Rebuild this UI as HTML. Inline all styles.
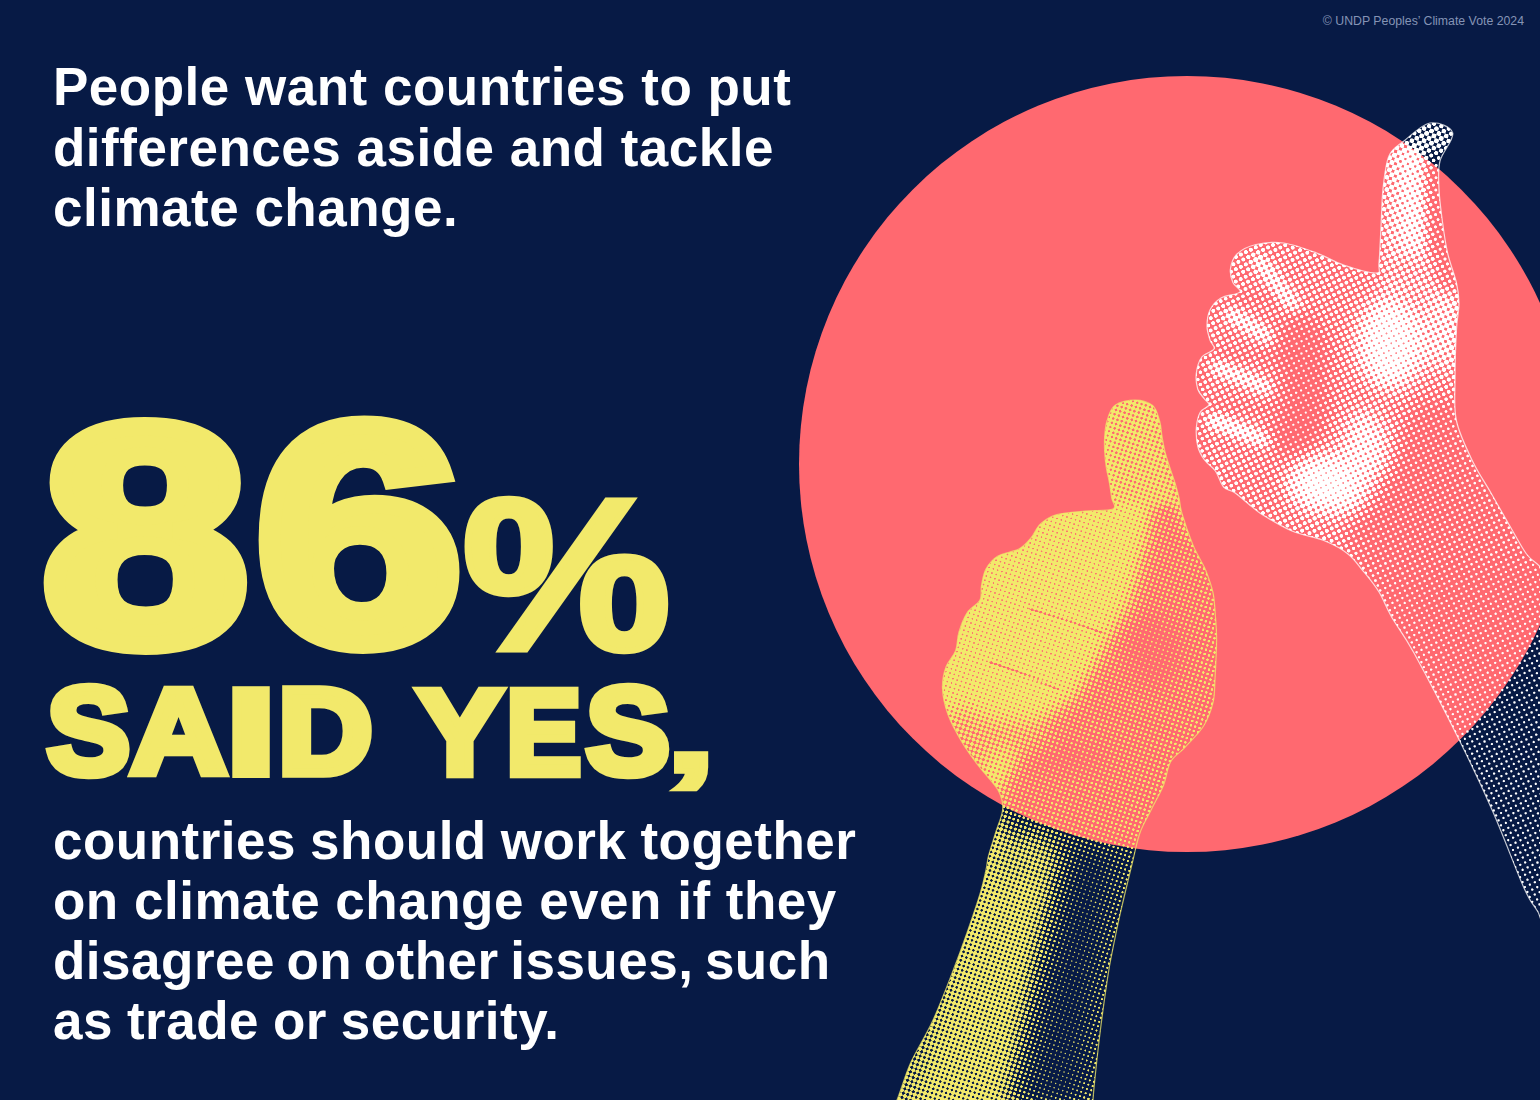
<!DOCTYPE html>
<html lang="en">
<head>
<meta charset="utf-8">
<title>86% said yes</title>
<style>
html,body{margin:0;padding:0;}
body{width:1540px;height:1100px;overflow:hidden;background:#071a45;position:relative;font-family:"Liberation Sans",Arial,sans-serif;}
.copy{position:absolute;right:16px;top:13px;font-size:12.3px;line-height:16px;color:#8594b5;white-space:nowrap;}
.head,.body{position:absolute;left:53px;color:#fff;font-weight:700;font-size:53px;line-height:60.5px;letter-spacing:0.5px;white-space:nowrap;}
.head{top:57px;}
.body{top:811px;line-height:60px;}
.big{position:absolute;left:0;top:0;}
.bigc{position:absolute;left:0;top:0;font-size:0;line-height:0;white-space:nowrap;}
.g{display:inline-block;width:0;vertical-align:top;transform-origin:0 0;font-weight:700;font-size:200px;line-height:200px;color:#f2e96b;-webkit-text-stroke:12px #f2e96b;}
svg.art{position:absolute;left:0;top:0;}
</style>
</head>
<body>
<svg class="art" width="1540" height="1100" viewBox="0 0 1540 1100">
<defs>
<radialGradient id="rg" cx=".5" cy=".5" r=".7071"><stop offset="0.000" stop-color="#ffffff"/><stop offset="0.141" stop-color="#f7f7f7"/><stop offset="0.283" stop-color="#dfdfdf"/><stop offset="0.424" stop-color="#b7b7b7"/><stop offset="0.566" stop-color="#7f7f7f"/><stop offset="0.707" stop-color="#373737"/><stop offset="0.778" stop-color="#1c1c1c"/><stop offset="0.849" stop-color="#0d0d0d"/><stop offset="0.919" stop-color="#030303"/><stop offset="1.000" stop-color="#000000"/></radialGradient>
<pattern id="sY" patternUnits="userSpaceOnUse" width="4.5" height="4.5" patternTransform="rotate(18)"><rect width="4.5" height="4.5" fill="url(#rg)"/></pattern>
<pattern id="sW" patternUnits="userSpaceOnUse" width="5.5" height="5.5" patternTransform="rotate(-26)"><rect width="5.5" height="5.5" fill="url(#rg)"/></pattern>
<filter id="thr" filterUnits="userSpaceOnUse" x="0" y="0" width="1540" height="1100" color-interpolation-filters="sRGB"><feComponentTransfer><feFuncR type="linear" slope="9" intercept="-4"/><feFuncG type="linear" slope="9" intercept="-4"/><feFuncB type="linear" slope="9" intercept="-4"/></feComponentTransfer></filter>
<filter id="b4" x="-50%" y="-50%" width="200%" height="200%"><feGaussianBlur stdDeviation="4"/></filter>
<filter id="b10" x="-50%" y="-50%" width="200%" height="200%"><feGaussianBlur stdDeviation="10"/></filter>
<clipPath id="cY"><path d="M1135.0 400.0C1141.3 400.0 1148.5 402.0 1152.6 405.5C1156.7 409.0 1158.0 415.9 1159.6 421.0C1161.2 426.1 1161.1 431.2 1162.0 436.4C1162.9 441.6 1163.7 446.9 1165.0 452.0C1166.3 457.1 1167.9 461.8 1169.6 467.0C1171.3 472.2 1173.4 477.8 1175.0 483.0C1176.6 488.2 1177.8 492.9 1179.0 498.0C1180.2 503.1 1179.7 505.8 1182.0 513.6C1184.3 521.4 1189.7 536.9 1192.8 544.6C1195.9 552.3 1198.3 555.6 1200.5 560.0C1202.7 564.4 1203.9 565.5 1206.0 571.0C1208.1 576.5 1211.4 585.2 1213.0 592.7C1214.6 600.2 1214.8 608.1 1215.4 616.0C1216.0 623.9 1216.7 629.5 1216.6 640.0C1216.5 650.5 1215.6 668.5 1215.0 679.0C1214.4 689.5 1214.9 694.9 1213.0 702.7C1211.1 710.5 1208.3 718.5 1203.6 726.0C1198.9 733.5 1190.2 741.6 1184.7 747.6C1179.2 753.6 1174.0 755.7 1170.5 762.0C1167.0 768.3 1166.6 777.6 1163.4 785.4C1160.2 793.2 1155.5 801.1 1151.6 809.0C1147.7 816.9 1143.1 824.2 1140.0 832.7C1136.9 841.2 1136.3 846.4 1133.0 860.0C1129.7 873.6 1123.7 898.3 1120.0 914.6C1116.3 930.9 1113.2 946.8 1111.0 958.0C1108.8 969.2 1108.8 970.0 1107.0 982.0C1105.2 994.0 1102.4 1014.0 1100.4 1030.0C1098.4 1046.0 1096.2 1066.3 1095.0 1078.0C1093.8 1089.7 1093.5 1092.2 1093.0 1100.0C1092.5 1107.8 1126.7 1120.8 1092.0 1125.0C1057.3 1129.2 917.5 1129.2 885.0 1125.0C852.5 1120.8 892.7 1110.3 897.0 1100.0C901.3 1089.7 904.7 1076.1 910.6 1063.0C916.5 1049.9 925.5 1036.4 932.4 1021.5C939.3 1006.6 946.2 988.4 952.0 973.5C957.8 958.6 962.6 945.5 967.3 932.0C972.0 918.5 977.3 903.0 980.4 892.7C983.5 882.4 984.6 876.1 986.0 870.0C987.4 863.9 986.9 862.2 988.5 856.0C990.1 849.8 993.2 840.5 995.6 832.7C998.0 824.9 1002.3 816.1 1002.7 809.0C1003.1 801.9 1002.0 797.1 998.0 790.0C994.0 782.9 984.9 774.3 979.0 766.5C973.1 758.7 967.7 751.7 962.5 743.0C957.3 734.3 951.3 723.6 948.0 714.5C944.7 705.4 942.8 696.4 942.5 688.5C942.2 680.6 943.8 673.2 946.0 667.0C948.2 660.8 953.3 656.8 955.5 651.0C957.7 645.2 957.1 638.3 959.0 632.0C960.9 625.7 963.5 618.3 967.0 613.0C970.5 607.7 977.6 604.6 980.0 600.0C982.4 595.4 980.5 590.8 981.5 585.6C982.5 580.4 983.2 573.9 986.0 569.0C988.8 564.1 992.5 559.3 998.0 556.0C1003.5 552.7 1013.5 552.0 1019.0 549.0C1024.5 546.0 1027.4 542.2 1031.0 538.0C1034.6 533.8 1036.2 527.9 1040.5 524.0C1044.8 520.1 1049.5 516.9 1057.0 514.7C1064.5 512.5 1076.1 511.9 1085.4 511.0C1094.7 510.1 1108.6 511.2 1113.0 509.0C1117.4 506.8 1112.3 502.4 1111.7 498.0C1111.1 493.6 1110.3 487.8 1109.4 482.7C1108.5 477.6 1107.1 472.4 1106.3 467.3C1105.5 462.2 1105.0 457.1 1104.7 452.0C1104.4 446.9 1104.3 441.6 1104.7 436.4C1105.1 431.2 1105.3 426.1 1107.0 421.0C1108.7 415.9 1110.1 409.0 1114.8 405.5C1119.5 402.0 1128.7 400.0 1135.0 400.0Z"/></clipPath>
<clipPath id="cW"><path d="M1430.0 123.0C1438.1 121.7 1451.0 126.7 1452.7 133.0C1454.4 139.3 1442.3 151.7 1440.0 161.0C1437.7 170.3 1438.6 178.8 1439.0 189.0C1439.4 199.2 1441.1 211.3 1442.5 222.0C1443.9 232.7 1445.3 242.8 1447.6 253.0C1449.9 263.2 1454.6 274.6 1456.5 283.0C1458.4 291.4 1459.0 295.9 1459.0 303.6C1459.0 311.3 1457.2 316.3 1456.5 329.0C1455.8 341.7 1455.0 364.7 1455.0 380.0C1455.0 395.3 1453.5 407.3 1456.5 421.0C1459.5 434.7 1467.2 450.0 1473.0 462.0C1478.8 474.0 1484.7 482.0 1491.0 493.0C1497.3 504.0 1505.1 517.8 1511.0 528.0C1516.9 538.2 1521.7 547.6 1526.5 554.0C1531.3 560.4 1534.1 560.8 1540.0 566.5C1545.9 572.2 1558.3 523.8 1562.0 588.0C1565.7 652.2 1566.0 898.0 1562.0 952.0C1558.0 1006.0 1544.3 922.7 1538.0 912.0C1531.7 901.3 1531.5 904.7 1524.0 888.0C1516.5 871.3 1503.8 836.8 1493.0 812.0C1482.2 787.2 1472.2 766.0 1459.0 739.5C1445.8 713.0 1425.2 673.4 1414.0 653.0C1402.8 632.6 1397.4 627.2 1391.6 617.0C1385.8 606.8 1383.7 599.6 1379.0 592.0C1374.3 584.4 1368.8 577.9 1363.6 571.6C1358.4 565.3 1354.4 559.1 1348.0 554.0C1341.6 548.9 1334.3 544.8 1325.0 541.0C1315.7 537.2 1302.5 535.4 1292.0 531.0C1281.5 526.6 1268.8 518.6 1262.0 514.4C1255.2 510.2 1255.6 509.6 1251.0 506.0C1246.4 502.4 1239.1 495.8 1234.5 492.6C1229.9 489.4 1226.8 490.6 1223.6 487.0C1220.4 483.4 1218.6 475.5 1215.4 471.0C1212.2 466.5 1207.5 464.2 1204.5 460.0C1201.5 455.8 1199.0 451.5 1197.7 446.0C1196.4 440.5 1196.0 432.7 1196.4 427.0C1196.9 421.3 1198.3 415.7 1200.4 412.0C1202.5 408.3 1208.3 407.2 1209.0 405.0C1209.7 402.8 1206.4 401.7 1204.5 399.0C1202.6 396.3 1199.0 393.4 1197.7 389.0C1196.4 384.6 1195.7 378.0 1196.4 372.7C1197.1 367.4 1198.9 360.9 1201.8 357.0C1204.7 353.1 1212.6 351.8 1214.0 349.0C1215.4 346.2 1211.2 343.8 1210.0 340.0C1208.8 336.2 1207.0 331.0 1207.0 326.0C1207.0 321.0 1207.7 314.7 1210.0 310.0C1212.3 305.3 1216.0 301.0 1221.0 298.0C1226.0 295.0 1238.0 294.6 1240.0 292.0C1242.0 289.4 1234.6 286.5 1233.0 282.7C1231.4 278.9 1229.7 273.8 1230.4 269.0C1231.1 264.2 1232.7 258.1 1237.0 254.0C1241.3 249.9 1248.2 246.3 1256.0 244.5C1263.8 242.7 1273.6 241.6 1283.6 243.0C1293.6 244.4 1306.0 249.0 1316.0 252.7C1326.0 256.4 1333.6 261.6 1343.6 265.0C1353.6 268.4 1370.1 273.3 1376.0 273.0C1381.9 272.7 1378.2 270.7 1379.0 263.0C1379.8 255.3 1380.3 239.3 1381.0 227.0C1381.7 214.7 1381.7 200.8 1383.0 189.0C1384.3 177.2 1385.5 164.0 1389.0 156.0C1392.5 148.0 1397.2 146.5 1404.0 141.0C1410.8 135.5 1421.9 124.3 1430.0 123.0Z"/></clipPath>
<mask id="mY" maskUnits="userSpaceOnUse" x="0" y="0" width="1540" height="1100"><g filter="url(#thr)"><rect width="1540" height="1100" fill="#000"/>
<g clip-path="url(#cY)">
<rect x="880" y="390" width="350" height="710" fill="#d0d0d0"/>
<g filter="url(#b10)">
<path d="M880 850 L1240 850 L1240 1110 L880 1110Z" fill="#adadad"/>
<path d="M1150 500 L1175 490 L1240 510 L1240 850 L1000 850 L1000 790 L1040 720 L1074 700 L1085 681 L1098 662 L1112 633 L1131 604 L1140 566 L1150 528Z" fill="#4d4d4d"/>
<ellipse cx="1155" cy="650" rx="32" ry="40" fill="#2a2a2a"/>
<ellipse cx="1065" cy="758" rx="45" ry="12" fill="#262626"/>
<ellipse cx="965" cy="745" rx="30" ry="40" fill="#888"/>
<ellipse cx="1010" cy="735" rx="40" ry="18" fill="#888"/>
<path d="M1058 845 L1170 845 L1150 1110 L1005 1110 L1030 980Z" fill="#3c3c3c"/>
<path d="M1078 850 L1112 850 L1080 1110 L1030 1110 L1050 980Z" fill="#1a1a1a"/>
<path d="M990 835 L1048 835 L1045 880 L990 880Z" fill="#9a9a9a"/>
<path d="M900 1000 L945 930 L960 950 L915 1110 L880 1110Z" fill="#909090"/>
</g>
<g filter="url(#b4)">
<path d="M1108 400 L1160 400 L1168 470 L1176 505 L1110 505Z" fill="#a6a6a6"/>
<path d="M1163 430 C1168 470 1178 500 1195 540" stroke="#999" stroke-width="14" fill="none"/>
</g>
<g stroke="#8a8a8a" stroke-width="2.5" fill="none" stroke-linecap="round">
<path d="M1030 609 Q1068 618 1102 633"/>
<path d="M990 662 Q1025 674 1058 689"/>
</g>
</g>

<rect width="1540" height="1100" fill="url(#sY)" opacity=".5"/></g></mask>
<mask id="mW" maskUnits="userSpaceOnUse" x="0" y="0" width="1540" height="1100"><g filter="url(#thr)"><rect width="1540" height="1100" fill="#000"/>
<g clip-path="url(#cW)">
<rect x="1150" y="100" width="400" height="860" fill="#747474"/>
<g filter="url(#b4)">
<path d="M1385 150 L1422 140 L1426 290 L1385 290Z" fill="#a8a8a8"/>
<path d="M1400 150 L1422 140 L1424 270 L1402 270Z" fill="#c8c8c8"/>
<path d="M1428 165 L1462 150 L1468 300 L1434 290Z" fill="#404040"/>
<ellipse cx="1432" cy="138" rx="18" ry="12" fill="#a0a0a0"/>
</g>
<g filter="url(#b4)" fill="none" stroke-linecap="round">
<path d="M1203 300 C1198 340 1196 400 1200 470" stroke="#555" stroke-width="12"/>
<path d="M1215 297 L1285 300" stroke="#555" stroke-width="8"/>
<path d="M1200 352 L1285 358" stroke="#555" stroke-width="8"/>
<path d="M1198 405 L1275 410" stroke="#555" stroke-width="8"/>
<path d="M1259 261 L1294 306" stroke="#c0c0c0" stroke-width="15"/>
<path d="M1232 315 L1270 338" stroke="#c0c0c0" stroke-width="15"/>
<path d="M1218 368 L1268 388" stroke="#c0c0c0" stroke-width="15"/>
<path d="M1214 421 L1268 441" stroke="#cccccc" stroke-width="15"/>
</g>
<g filter="url(#b10)">

<ellipse cx="1410" cy="272" rx="32" ry="20" fill="#8c8c8c"/>
<ellipse cx="1390" cy="343" rx="32" ry="46" fill="#e0e0e0"/>
<path d="M1425 290 L1462 290 L1462 365 L1425 365Z" fill="#b4b4b4"/>
<path d="M1425 365 L1462 365 L1462 425 L1425 425Z" fill="#7a7a7a"/>
<ellipse cx="1302" cy="350" rx="26" ry="34" fill="#262626"/>
<ellipse cx="1305" cy="390" rx="24" ry="70" fill="#2a2a2a"/>
<ellipse cx="1296" cy="434" rx="24" ry="30" fill="#262626"/>
<ellipse cx="1250" cy="490" rx="40" ry="25" fill="#666"/>
<ellipse cx="1330" cy="484" rx="40" ry="28" fill="#e8e8e8"/>
<ellipse cx="1365" cy="455" rx="22" ry="45" fill="#c8c8c8"/>
<path d="M1420 395 L1480 400 L1570 560 L1570 640 L1380 640 L1345 530 L1385 465Z" fill="#383838"/>
<path d="M1370 580 L1560 560 L1560 960 L1500 960Z" fill="#2e2e2e"/>
</g>
</g>

<rect width="1540" height="1100" fill="url(#sW)" opacity=".5"/></g></mask>
</defs>
<circle cx="1187" cy="464" r="388" fill="#ff6970"/>
<g clip-path="url(#cW)"><rect x="1150" y="100" width="390" height="850" fill="#fff" mask="url(#mW)"/></g>
<path d="M1430.0 123.0C1438.1 121.7 1451.0 126.7 1452.7 133.0C1454.4 139.3 1442.3 151.7 1440.0 161.0C1437.7 170.3 1438.6 178.8 1439.0 189.0C1439.4 199.2 1441.1 211.3 1442.5 222.0C1443.9 232.7 1445.3 242.8 1447.6 253.0C1449.9 263.2 1454.6 274.6 1456.5 283.0C1458.4 291.4 1459.0 295.9 1459.0 303.6C1459.0 311.3 1457.2 316.3 1456.5 329.0C1455.8 341.7 1455.0 364.7 1455.0 380.0C1455.0 395.3 1453.5 407.3 1456.5 421.0C1459.5 434.7 1467.2 450.0 1473.0 462.0C1478.8 474.0 1484.7 482.0 1491.0 493.0C1497.3 504.0 1505.1 517.8 1511.0 528.0C1516.9 538.2 1521.7 547.6 1526.5 554.0C1531.3 560.4 1534.1 560.8 1540.0 566.5C1545.9 572.2 1558.3 523.8 1562.0 588.0C1565.7 652.2 1566.0 898.0 1562.0 952.0C1558.0 1006.0 1544.3 922.7 1538.0 912.0C1531.7 901.3 1531.5 904.7 1524.0 888.0C1516.5 871.3 1503.8 836.8 1493.0 812.0C1482.2 787.2 1472.2 766.0 1459.0 739.5C1445.8 713.0 1425.2 673.4 1414.0 653.0C1402.8 632.6 1397.4 627.2 1391.6 617.0C1385.8 606.8 1383.7 599.6 1379.0 592.0C1374.3 584.4 1368.8 577.9 1363.6 571.6C1358.4 565.3 1354.4 559.1 1348.0 554.0C1341.6 548.9 1334.3 544.8 1325.0 541.0C1315.7 537.2 1302.5 535.4 1292.0 531.0C1281.5 526.6 1268.8 518.6 1262.0 514.4C1255.2 510.2 1255.6 509.6 1251.0 506.0C1246.4 502.4 1239.1 495.8 1234.5 492.6C1229.9 489.4 1226.8 490.6 1223.6 487.0C1220.4 483.4 1218.6 475.5 1215.4 471.0C1212.2 466.5 1207.5 464.2 1204.5 460.0C1201.5 455.8 1199.0 451.5 1197.7 446.0C1196.4 440.5 1196.0 432.7 1196.4 427.0C1196.9 421.3 1198.3 415.7 1200.4 412.0C1202.5 408.3 1208.3 407.2 1209.0 405.0C1209.7 402.8 1206.4 401.7 1204.5 399.0C1202.6 396.3 1199.0 393.4 1197.7 389.0C1196.4 384.6 1195.7 378.0 1196.4 372.7C1197.1 367.4 1198.9 360.9 1201.8 357.0C1204.7 353.1 1212.6 351.8 1214.0 349.0C1215.4 346.2 1211.2 343.8 1210.0 340.0C1208.8 336.2 1207.0 331.0 1207.0 326.0C1207.0 321.0 1207.7 314.7 1210.0 310.0C1212.3 305.3 1216.0 301.0 1221.0 298.0C1226.0 295.0 1238.0 294.6 1240.0 292.0C1242.0 289.4 1234.6 286.5 1233.0 282.7C1231.4 278.9 1229.7 273.8 1230.4 269.0C1231.1 264.2 1232.7 258.1 1237.0 254.0C1241.3 249.9 1248.2 246.3 1256.0 244.5C1263.8 242.7 1273.6 241.6 1283.6 243.0C1293.6 244.4 1306.0 249.0 1316.0 252.7C1326.0 256.4 1333.6 261.6 1343.6 265.0C1353.6 268.4 1370.1 273.3 1376.0 273.0C1381.9 272.7 1378.2 270.7 1379.0 263.0C1379.8 255.3 1380.3 239.3 1381.0 227.0C1381.7 214.7 1381.7 200.8 1383.0 189.0C1384.3 177.2 1385.5 164.0 1389.0 156.0C1392.5 148.0 1397.2 146.5 1404.0 141.0C1410.8 135.5 1421.9 124.3 1430.0 123.0Z" fill="none" stroke="#fff" stroke-width="1.2" stroke-opacity=".75"/>
<g clip-path="url(#cY)"><rect x="880" y="390" width="350" height="710" fill="#f2e96b" mask="url(#mY)"/></g>
<path d="M1135.0 400.0C1141.3 400.0 1148.5 402.0 1152.6 405.5C1156.7 409.0 1158.0 415.9 1159.6 421.0C1161.2 426.1 1161.1 431.2 1162.0 436.4C1162.9 441.6 1163.7 446.9 1165.0 452.0C1166.3 457.1 1167.9 461.8 1169.6 467.0C1171.3 472.2 1173.4 477.8 1175.0 483.0C1176.6 488.2 1177.8 492.9 1179.0 498.0C1180.2 503.1 1179.7 505.8 1182.0 513.6C1184.3 521.4 1189.7 536.9 1192.8 544.6C1195.9 552.3 1198.3 555.6 1200.5 560.0C1202.7 564.4 1203.9 565.5 1206.0 571.0C1208.1 576.5 1211.4 585.2 1213.0 592.7C1214.6 600.2 1214.8 608.1 1215.4 616.0C1216.0 623.9 1216.7 629.5 1216.6 640.0C1216.5 650.5 1215.6 668.5 1215.0 679.0C1214.4 689.5 1214.9 694.9 1213.0 702.7C1211.1 710.5 1208.3 718.5 1203.6 726.0C1198.9 733.5 1190.2 741.6 1184.7 747.6C1179.2 753.6 1174.0 755.7 1170.5 762.0C1167.0 768.3 1166.6 777.6 1163.4 785.4C1160.2 793.2 1155.5 801.1 1151.6 809.0C1147.7 816.9 1143.1 824.2 1140.0 832.7C1136.9 841.2 1136.3 846.4 1133.0 860.0C1129.7 873.6 1123.7 898.3 1120.0 914.6C1116.3 930.9 1113.2 946.8 1111.0 958.0C1108.8 969.2 1108.8 970.0 1107.0 982.0C1105.2 994.0 1102.4 1014.0 1100.4 1030.0C1098.4 1046.0 1096.2 1066.3 1095.0 1078.0C1093.8 1089.7 1093.5 1092.2 1093.0 1100.0C1092.5 1107.8 1126.7 1120.8 1092.0 1125.0C1057.3 1129.2 917.5 1129.2 885.0 1125.0C852.5 1120.8 892.7 1110.3 897.0 1100.0C901.3 1089.7 904.7 1076.1 910.6 1063.0C916.5 1049.9 925.5 1036.4 932.4 1021.5C939.3 1006.6 946.2 988.4 952.0 973.5C957.8 958.6 962.6 945.5 967.3 932.0C972.0 918.5 977.3 903.0 980.4 892.7C983.5 882.4 984.6 876.1 986.0 870.0C987.4 863.9 986.9 862.2 988.5 856.0C990.1 849.8 993.2 840.5 995.6 832.7C998.0 824.9 1002.3 816.1 1002.7 809.0C1003.1 801.9 1002.0 797.1 998.0 790.0C994.0 782.9 984.9 774.3 979.0 766.5C973.1 758.7 967.7 751.7 962.5 743.0C957.3 734.3 951.3 723.6 948.0 714.5C944.7 705.4 942.8 696.4 942.5 688.5C942.2 680.6 943.8 673.2 946.0 667.0C948.2 660.8 953.3 656.8 955.5 651.0C957.7 645.2 957.1 638.3 959.0 632.0C960.9 625.7 963.5 618.3 967.0 613.0C970.5 607.7 977.6 604.6 980.0 600.0C982.4 595.4 980.5 590.8 981.5 585.6C982.5 580.4 983.2 573.9 986.0 569.0C988.8 564.1 992.5 559.3 998.0 556.0C1003.5 552.7 1013.5 552.0 1019.0 549.0C1024.5 546.0 1027.4 542.2 1031.0 538.0C1034.6 533.8 1036.2 527.9 1040.5 524.0C1044.8 520.1 1049.5 516.9 1057.0 514.7C1064.5 512.5 1076.1 511.9 1085.4 511.0C1094.7 510.1 1108.6 511.2 1113.0 509.0C1117.4 506.8 1112.3 502.4 1111.7 498.0C1111.1 493.6 1110.3 487.8 1109.4 482.7C1108.5 477.6 1107.1 472.4 1106.3 467.3C1105.5 462.2 1105.0 457.1 1104.7 452.0C1104.4 446.9 1104.3 441.6 1104.7 436.4C1105.1 431.2 1105.3 426.1 1107.0 421.0C1108.7 415.9 1110.1 409.0 1114.8 405.5C1119.5 402.0 1128.7 400.0 1135.0 400.0Z" fill="none" stroke="#f2e96b" stroke-width="1.2" stroke-opacity=".75"/>
</svg>
<div class="copy">© UNDP Peoples’ Climate Vote 2024</div>
<div class="head"><div>People want countries to put</div>
<div>differences aside and tackle</div>
<div>climate change.</div></div>
<div class="big">
<div class="bigc"><span class="g" style="-webkit-text-stroke-width:12px;transform:matrix(1.8378,0,0,1.5487,43.00,380.88)">8</span><span class="g" style="-webkit-text-stroke-width:12px;transform:matrix(1.8486,0,0,1.5519,256.15,379.31)">6</span><span class="g" style="-webkit-text-stroke-width:6px;transform:matrix(1.1724,0,0,1.0782,462.26,466.89)">%</span></div>
<div class="bigc"><span class="g" style="-webkit-text-stroke-width:14px;transform:matrix(0.6235,0,0,0.6179,47.07,669.41)">S</span><span class="g" style="-webkit-text-stroke-width:14px;transform:matrix(0.6688,0,0,0.6013,130.34,671.57)">A</span><span class="g" style="-webkit-text-stroke-width:10px;transform:matrix(0.9641,0,0,0.6216,224.29,669.84)">I</span><span class="g" style="-webkit-text-stroke-width:16px;transform:matrix(0.6453,0,0,0.6006,278.77,671.19)">D</span> <span class="g" style="-webkit-text-stroke-width:14px;transform:matrix(0.6384,0,0,0.6053,417.35,671.47)">Y</span><span class="g" style="-webkit-text-stroke-width:14px;transform:matrix(0.5614,0,0,0.6053,506.33,671.47)">E</span><span class="g" style="-webkit-text-stroke-width:14px;transform:matrix(0.6279,0,0,0.6218,585.88,669.32)">S</span><span class="g" style="-webkit-text-stroke-width:10px;transform:matrix(0.8932,0,0,0.5690,666.02,674.35)">,</span></div>
</div>
<div class="body"><div style="word-spacing:-1.25px">countries should work together</div>
<div>on climate change even if they</div>
<div style="word-spacing:-3.75px">disagree on other issues, such</div>
<div style="word-spacing:-1.3px">as trade or security.</div></div>
</body>
</html>
